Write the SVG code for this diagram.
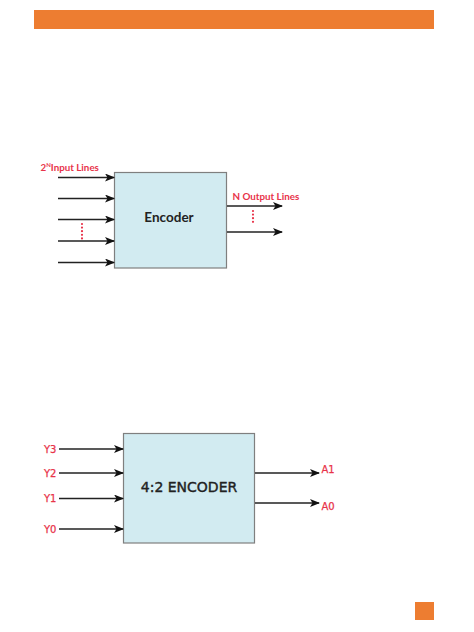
<svg xmlns="http://www.w3.org/2000/svg" width="474" height="632" viewBox="0 0 474 632">
<defs>
<marker id="ah" markerWidth="10" markerHeight="8" refX="9" refY="4" orient="auto" markerUnits="userSpaceOnUse">
<path d="M0,0 L10,4 L0,8 L2.5,4 Z" fill="#111"/>
</marker>
<style>
.box{fill:#D2EBF1;stroke:#7F7F7F;stroke-width:1.2}
.wire{stroke:#222;stroke-width:1.4;fill:none;marker-end:url(#ah)}
.dots{stroke:#E8334A;stroke-width:2.2;stroke-linecap:round;stroke-dasharray:0 3.6;fill:none}
.lbl{font-family:Lato,"Liberation Sans",sans-serif;font-weight:bold;fill:#E8334A;font-size:9.8px}
.pin{font-family:"DejaVu Sans",sans-serif;fill:#E8334A;stroke:#E8334A;stroke-width:0.25;font-size:10px}
.orange{fill:#ED7D31}
</style>
</defs>
<rect class="orange" x="34" y="10" width="400" height="19"/>
<rect class="orange" x="415" y="602" width="19" height="18"/>

<g id="encoder1">
<rect class="box" x="114.5" y="172.5" width="112" height="95.5"/>
<text x="169" y="222" text-anchor="middle" font-family="Lato,'Liberation Sans',sans-serif" font-weight="bold" font-size="13.5" fill="#222">Encoder</text>
</g>
<g id="encoder2">
<rect class="box" x="123.5" y="433.5" width="131" height="109.5"/>
<text x="189" y="492" text-anchor="middle" font-family="'DejaVu Sans',sans-serif" font-size="14" fill="#222" stroke="#222" stroke-width="0.4">4:2 ENCODER</text>
</g>

<g id="connectors">
<line class="wire" x1="58" y1="177.5" x2="114" y2="177.5"/>
<line class="wire" x1="58" y1="198.5" x2="114" y2="198.5"/>
<line class="wire" x1="58" y1="219.5" x2="114" y2="219.5"/>
<line class="wire" x1="58" y1="241" x2="114" y2="241"/>
<line class="wire" x1="58" y1="262.5" x2="114" y2="262.5"/>
<line class="wire" x1="227" y1="206" x2="282" y2="206"/>
<line class="wire" x1="227" y1="232" x2="282" y2="232"/>
<line class="wire" x1="59" y1="449" x2="123" y2="449"/>
<line class="wire" x1="59" y1="473" x2="123" y2="473"/>
<line class="wire" x1="59" y1="498.5" x2="123" y2="498.5"/>
<line class="wire" x1="59" y1="529" x2="123" y2="529"/>
<line class="wire" x1="255" y1="473" x2="319" y2="473"/>
<line class="wire" x1="255" y1="503" x2="319" y2="503"/>
<line class="dots" x1="82" y1="224" x2="82" y2="238.5"/>
<line class="dots" x1="253" y1="211" x2="253" y2="225"/>
</g>

<g id="labels">
<text class="lbl" x="40.5" y="171">2<tspan font-size="6" dy="-4">N</tspan><tspan dy="4">Input Lines</tspan></text>
<text class="lbl" x="232.5" y="199.5">N Output Lines</text>
<text class="pin" x="44" y="452.5">Y3</text>
<text class="pin" x="44" y="476.5">Y2</text>
<text class="pin" x="44" y="502">Y1</text>
<text class="pin" x="44" y="532.5">Y0</text>
<text class="pin" x="321.5" y="473">A1</text>
<text class="pin" x="321.5" y="509.5">A0</text>
</g>
</svg>
